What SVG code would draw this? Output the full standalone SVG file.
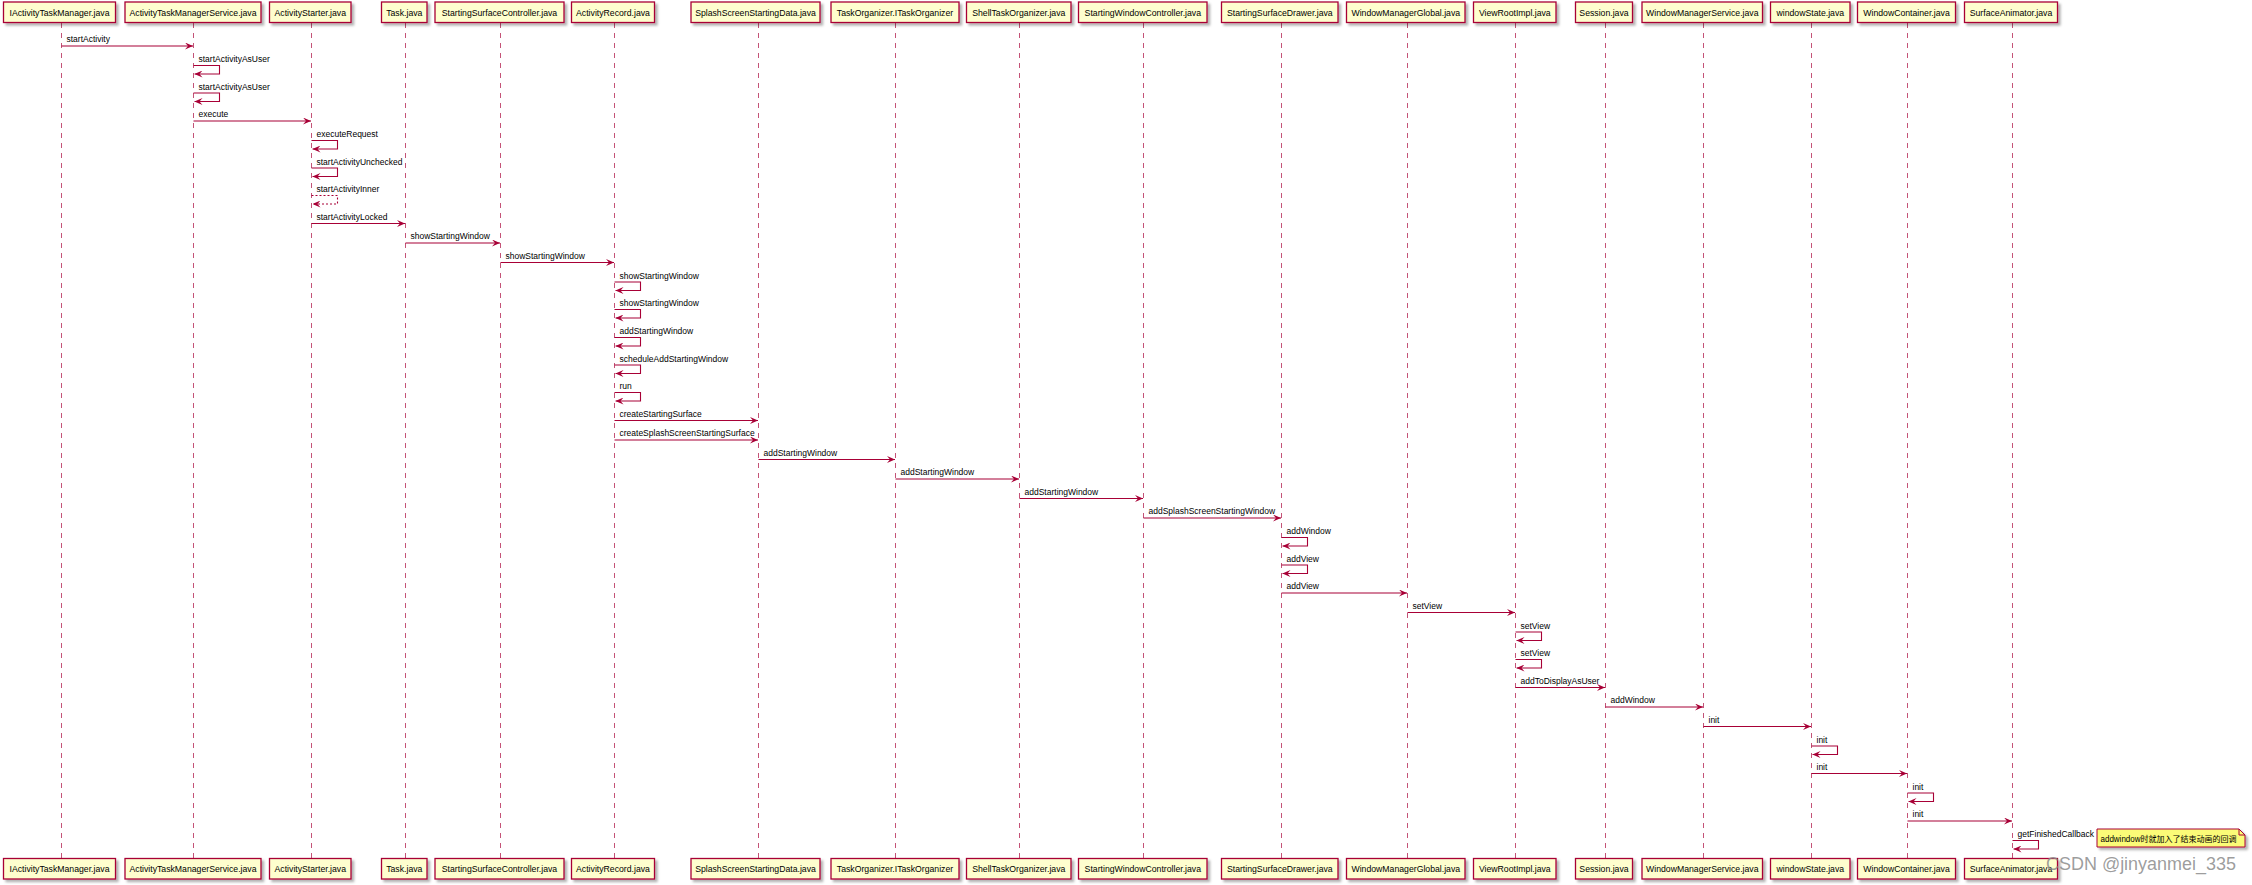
<svg xmlns="http://www.w3.org/2000/svg" width="2252" height="885" viewBox="0 0 2252 885">
<style>
.bx{fill:#FEFECE;stroke:#A80036;stroke-width:1.3;filter:url(#sh)}
.pt{font-family:"Liberation Sans",Arial,sans-serif;font-size:8.7px;fill:#000;text-anchor:middle}
.ll{stroke:#A80036;stroke-width:0.8;stroke-dasharray:5,5;fill:none;stroke-opacity:0.85}
.m{stroke:#A80036;stroke-width:1.1;fill:none;marker-end:url(#ah)}
.d{stroke-dasharray:2,2}
.lb{font-family:"Liberation Sans",Arial,sans-serif;font-size:8.5px;fill:#000}
</style>
<defs>
<filter id="sh" x="-10%" y="-20%" width="130%" height="160%"><feDropShadow dx="2.5" dy="2.5" stdDeviation="1" flood-color="#000" flood-opacity="0.3"/></filter>
<marker id="ah" viewBox="0 0 8 7" refX="8" refY="3.5" markerWidth="8" markerHeight="7" orient="auto" markerUnits="userSpaceOnUse"><path d="M0,0 L8,3.5 L0,7 L3,3.5 Z" fill="#A80036"/></marker>
</defs>
<rect width="2252" height="885" fill="#fff"/>
<g id="lifelines">
<path class="ll" d="M61.5,23V858M193.5,23V858M311.5,23V858M405.5,23V858M500.5,23V858M614.5,23V858M758.5,23V858M895.5,23V858M1019.5,23V858M1143.5,23V858M1281.5,23V858M1407.5,23V858M1515.5,23V858M1605.5,23V858M1703.5,23V858M1811.5,23V858M1907.5,23V858M2012.5,23V858"/>
</g>
<g id="p1"><rect class="bx" x="3.5" y="2" width="112" height="20.5"/><text class="pt" x="59.5" y="15.8">IActivityTaskManager.java</text><rect class="bx" x="3.5" y="858.5" width="112" height="20.5"/><text class="pt" x="59.5" y="872.3">IActivityTaskManager.java</text></g>
<g id="p2"><rect class="bx" x="125" y="2" width="136" height="20.5"/><text class="pt" x="193" y="15.8">ActivityTaskManagerService.java</text><rect class="bx" x="125" y="858.5" width="136" height="20.5"/><text class="pt" x="193" y="872.3">ActivityTaskManagerService.java</text></g>
<g id="p3"><rect class="bx" x="269.5" y="2" width="81.5" height="20.5"/><text class="pt" x="310.3" y="15.8">ActivityStarter.java</text><rect class="bx" x="269.5" y="858.5" width="81.5" height="20.5"/><text class="pt" x="310.3" y="872.3">ActivityStarter.java</text></g>
<g id="p4"><rect class="bx" x="381.5" y="2" width="45.5" height="20.5"/><text class="pt" x="404.3" y="15.8">Task.java</text><rect class="bx" x="381.5" y="858.5" width="45.5" height="20.5"/><text class="pt" x="404.3" y="872.3">Task.java</text></g>
<g id="p5"><rect class="bx" x="435" y="2" width="129" height="20.5"/><text class="pt" x="499.5" y="15.8">StartingSurfaceController.java</text><rect class="bx" x="435" y="858.5" width="129" height="20.5"/><text class="pt" x="499.5" y="872.3">StartingSurfaceController.java</text></g>
<g id="p6"><rect class="bx" x="571.5" y="2" width="83" height="20.5"/><text class="pt" x="613" y="15.8">ActivityRecord.java</text><rect class="bx" x="571.5" y="858.5" width="83" height="20.5"/><text class="pt" x="613" y="872.3">ActivityRecord.java</text></g>
<g id="p7"><rect class="bx" x="691" y="2" width="129" height="20.5"/><text class="pt" x="755.5" y="15.8">SplashScreenStartingData.java</text><rect class="bx" x="691" y="858.5" width="129" height="20.5"/><text class="pt" x="755.5" y="872.3">SplashScreenStartingData.java</text></g>
<g id="p8"><rect class="bx" x="831" y="2" width="128" height="20.5"/><text class="pt" x="895" y="15.8">TaskOrganizer.ITaskOrganizer</text><rect class="bx" x="831" y="858.5" width="128" height="20.5"/><text class="pt" x="895" y="872.3">TaskOrganizer.ITaskOrganizer</text></g>
<g id="p9"><rect class="bx" x="966.5" y="2" width="104.5" height="20.5"/><text class="pt" x="1018.8" y="15.8">ShellTaskOrganizer.java</text><rect class="bx" x="966.5" y="858.5" width="104.5" height="20.5"/><text class="pt" x="1018.8" y="872.3">ShellTaskOrganizer.java</text></g>
<g id="p10"><rect class="bx" x="1078.5" y="2" width="128.5" height="20.5"/><text class="pt" x="1142.8" y="15.8">StartingWindowController.java</text><rect class="bx" x="1078.5" y="858.5" width="128.5" height="20.5"/><text class="pt" x="1142.8" y="872.3">StartingWindowController.java</text></g>
<g id="p11"><rect class="bx" x="1221.5" y="2" width="116.5" height="20.5"/><text class="pt" x="1279.8" y="15.8">StartingSurfaceDrawer.java</text><rect class="bx" x="1221.5" y="858.5" width="116.5" height="20.5"/><text class="pt" x="1279.8" y="872.3">StartingSurfaceDrawer.java</text></g>
<g id="p12"><rect class="bx" x="1346.5" y="2" width="118.5" height="20.5"/><text class="pt" x="1405.8" y="15.8">WindowManagerGlobal.java</text><rect class="bx" x="1346.5" y="858.5" width="118.5" height="20.5"/><text class="pt" x="1405.8" y="872.3">WindowManagerGlobal.java</text></g>
<g id="p13"><rect class="bx" x="1473.5" y="2" width="82.5" height="20.5"/><text class="pt" x="1514.8" y="15.8">ViewRootImpl.java</text><rect class="bx" x="1473.5" y="858.5" width="82.5" height="20.5"/><text class="pt" x="1514.8" y="872.3">ViewRootImpl.java</text></g>
<g id="p14"><rect class="bx" x="1575.5" y="2" width="57" height="20.5"/><text class="pt" x="1604" y="15.8">Session.java</text><rect class="bx" x="1575.5" y="858.5" width="57" height="20.5"/><text class="pt" x="1604" y="872.3">Session.java</text></g>
<g id="p15"><rect class="bx" x="1642" y="2" width="120.5" height="20.5"/><text class="pt" x="1702.3" y="15.8">WindowManagerService.java</text><rect class="bx" x="1642" y="858.5" width="120.5" height="20.5"/><text class="pt" x="1702.3" y="872.3">WindowManagerService.java</text></g>
<g id="p16"><rect class="bx" x="1770.5" y="2" width="79.5" height="20.5"/><text class="pt" x="1810.3" y="15.8">windowState.java</text><rect class="bx" x="1770.5" y="858.5" width="79.5" height="20.5"/><text class="pt" x="1810.3" y="872.3">windowState.java</text></g>
<g id="p17"><rect class="bx" x="1857.5" y="2" width="98" height="20.5"/><text class="pt" x="1906.5" y="15.8">WindowContainer.java</text><rect class="bx" x="1857.5" y="858.5" width="98" height="20.5"/><text class="pt" x="1906.5" y="872.3">WindowContainer.java</text></g>
<g id="p18"><rect class="bx" x="1964.5" y="2" width="93" height="20.5"/><text class="pt" x="2011" y="15.8">SurfaceAnimator.java</text><rect class="bx" x="1964.5" y="858.5" width="93" height="20.5"/><text class="pt" x="2011" y="872.3">SurfaceAnimator.java</text></g>
<g id="connectors">
<path class="m" d="M61.5,46H193"/><text class="lb" x="66.5" y="42">startActivity</text>
<path class="m" d="M193.5,65.5h26v8.5H194.5"/><text class="lb" x="198.5" y="62">startActivityAsUser</text>
<path class="m" d="M193.5,93h26v8.5H194.5"/><text class="lb" x="198.5" y="89.5">startActivityAsUser</text>
<path class="m" d="M193.5,121H311"/><text class="lb" x="198.5" y="117">execute</text>
<path class="m" d="M311.5,140.5h26v8.5H312.5"/><text class="lb" x="316.5" y="137">executeRequest</text>
<path class="m" d="M311.5,168h26v8.5H312.5"/><text class="lb" x="316.5" y="164.5">startActivityUnchecked</text>
<path class="m d" d="M311.5,195.5h26v8.5H312.5"/><text class="lb" x="316.5" y="192">startActivityInner</text>
<path class="m" d="M311.5,223.5H405"/><text class="lb" x="316.5" y="219.5">startActivityLocked</text>
<path class="m" d="M405.5,243H500"/><text class="lb" x="410.5" y="239">showStartingWindow</text>
<path class="m" d="M500.5,262.5H614"/><text class="lb" x="505.5" y="258.5">showStartingWindow</text>
<path class="m" d="M614.5,282h26v8.5H615.5"/><text class="lb" x="619.5" y="278.5">showStartingWindow</text>
<path class="m" d="M614.5,309.5h26v8.5H615.5"/><text class="lb" x="619.5" y="306">showStartingWindow</text>
<path class="m" d="M614.5,337.5h26v8.5H615.5"/><text class="lb" x="619.5" y="334">addStartingWindow</text>
<path class="m" d="M614.5,365h26v8.5H615.5"/><text class="lb" x="619.5" y="361.5">scheduleAddStartingWindow</text>
<path class="m" d="M614.5,392.5h26v8.5H615.5"/><text class="lb" x="619.5" y="389">run</text>
<path class="m" d="M614.5,420.5H758"/><text class="lb" x="619.5" y="416.5">createStartingSurface</text>
<path class="m" d="M614.5,440H758"/><text class="lb" x="619.5" y="436">createSplashScreenStartingSurface</text>
<path class="m" d="M758.5,459.5H895"/><text class="lb" x="763.5" y="455.5">addStartingWindow</text>
<path class="m" d="M895.5,479H1019"/><text class="lb" x="900.5" y="475">addStartingWindow</text>
<path class="m" d="M1019.5,498.5H1143"/><text class="lb" x="1024.5" y="494.5">addStartingWindow</text>
<path class="m" d="M1143.5,518H1281"/><text class="lb" x="1148.5" y="514">addSplashScreenStartingWindow</text>
<path class="m" d="M1281.5,537.5h26v8.5H1282.5"/><text class="lb" x="1286.5" y="534">addWindow</text>
<path class="m" d="M1281.5,565h26v8.5H1282.5"/><text class="lb" x="1286.5" y="561.5">addView</text>
<path class="m" d="M1281.5,593H1407"/><text class="lb" x="1286.5" y="589">addView</text>
<path class="m" d="M1407.5,612.5H1515"/><text class="lb" x="1412.5" y="608.5">setView</text>
<path class="m" d="M1515.5,632h26v8.5H1516.5"/><text class="lb" x="1520.5" y="628.5">setView</text>
<path class="m" d="M1515.5,659.5h26v8.5H1516.5"/><text class="lb" x="1520.5" y="656">setView</text>
<path class="m" d="M1515.5,687.5H1605"/><text class="lb" x="1520.5" y="683.5">addToDisplayAsUser</text>
<path class="m" d="M1605.5,707H1703"/><text class="lb" x="1610.5" y="703">addWindow</text>
<path class="m" d="M1703.5,726.5H1811"/><text class="lb" x="1708.5" y="722.5">init</text>
<path class="m" d="M1811.5,746h26v8.5H1812.5"/><text class="lb" x="1816.5" y="742.5">init</text>
<path class="m" d="M1811.5,773.5H1907"/><text class="lb" x="1816.5" y="769.5">init</text>
<path class="m" d="M1907.5,793h26v8.5H1908.5"/><text class="lb" x="1912.5" y="789.5">init</text>
<path class="m" d="M1907.5,821H2012"/><text class="lb" x="1912.5" y="817">init</text>
<path class="m" d="M2012.5,840.5h26v8.5H2013.5"/><text class="lb" x="2017.5" y="837">getFinishedCallback</text>
</g>
<g id="note">
<path d="M2097,829H2239L2245,835V847H2097Z" fill="#FBFB77" stroke="#A80036" stroke-width="1" filter="url(#sh)"/>
<path d="M2239,829V835H2245" fill="none" stroke="#A80036" stroke-width="1"/>
<text x="2100.5" y="841.5" font-family="'Liberation Sans','Noto Sans CJK SC',sans-serif" font-size="8.3" textLength="136" lengthAdjust="spacingAndGlyphs" fill="#000">addwindow时就加入了结束动画的回调</text>
</g>
<text x="2046" y="870" font-family="'Liberation Sans',Arial,sans-serif" font-size="17.5" fill="#8c8c8c" fill-opacity="0.85" textLength="190" lengthAdjust="spacingAndGlyphs">CSDN @jinyanmei_335</text>
</svg>
